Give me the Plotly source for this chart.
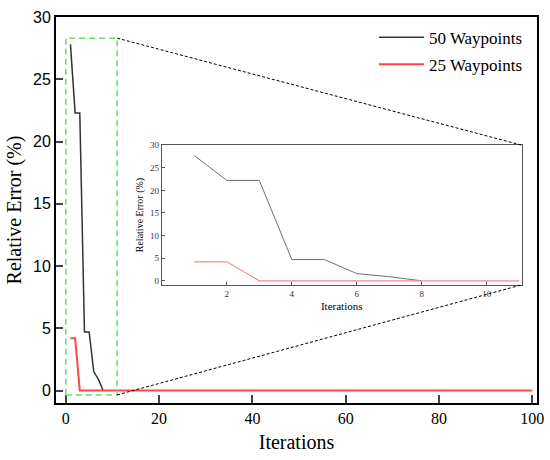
import plotly.graph_objects as go

# data
iters_50 = [1, 2, 3, 4, 5, 6, 7, 8]
err_50 = [27.8, 22.3, 22.3, 4.7, 4.7, 1.5, 0.9, 0.0]
iters_25 = [1, 2, 3, 100]
err_25 = [4.2, 4.2, 0.0, 0.0]

inset_iters_50 = [1, 2, 3, 4, 5, 6, 7, 8]
inset_err_50 = [27.7, 22.2, 22.2, 4.7, 4.7, 1.6, 0.9, 0.0]
inset_iters_25 = [1, 2, 3, 11]
inset_err_25 = [4.2, 4.2, 0.0, 0.0]

zoom_box = dict(x0=0, x1=11, y0=-0.35, y1=28.3)

x_range = [-2.1, 101]
y_range = [-1, 30]
inset_dom_x = [0.220, 0.968]
inset_dom_y = [0.306, 0.668]

serif = "Liberation Serif"


def paper_to_main(px, py):
    # inset corner (paper, main domain is [0,1]) -> main data coords
    x = x_range[0] + px * (x_range[1] - x_range[0])
    y = y_range[0] + py * (y_range[1] - y_range[0])
    return x, y


fig = go.Figure()

fig.add_trace(go.Scatter(x=iters_50, y=err_50, mode="lines", name="50 Waypoints",
                         legendgroup="a", line=dict(color="#333333", width=1.5)))
fig.add_trace(go.Scatter(x=iters_25, y=err_25, mode="lines", name="25 Waypoints",
                         legendgroup="b", line=dict(color="#ff4545", width=2)))

# inset
fig.add_trace(go.Scatter(x=inset_iters_50, y=inset_err_50, mode="lines", showlegend=False,
                         line=dict(color="#707070", width=1), xaxis="x2", yaxis="y2"))
fig.add_trace(go.Scatter(x=inset_iters_25, y=inset_err_25, mode="lines", showlegend=False,
                         line=dict(color="#f58a8a", width=1.2), xaxis="x2", yaxis="y2"))

# green zoom rectangle
fig.add_shape(type="rect", xref="x", yref="y", **zoom_box,
              line=dict(color="#66e066", width=1.5, dash="6px,4px"), layer="above")

# dotted connectors to inset right corners
tr = paper_to_main(inset_dom_x[1], inset_dom_y[1])
br = paper_to_main(inset_dom_x[1], inset_dom_y[0])
fig.add_shape(type="line", xref="x", yref="y", x0=zoom_box["x1"], y0=zoom_box["y1"],
              x1=tr[0], y1=tr[1], line=dict(color="black", width=1, dash="3px,2px"))
fig.add_shape(type="line", xref="x", yref="y", x0=zoom_box["x1"], y0=zoom_box["y0"],
              x1=br[0], y1=br[1], line=dict(color="black", width=1, dash="3px,2px"))

fig.update_layout(
    width=550, height=460,
    margin=dict(l=56, r=13, t=12, b=57),
    paper_bgcolor="white", plot_bgcolor="white",
    font=dict(family=serif, color="black"),
    xaxis=dict(range=x_range, tickvals=[0, 20, 40, 60, 80, 100], ticks="inside", ticklen=8,
               tickwidth=1.5, showline=True, linecolor="black", linewidth=2, mirror=True,
               showgrid=False, zeroline=False, automargin=False,
               tickfont=dict(family=serif, size=16),
               title=dict(text="Iterations", font=dict(family=serif, size=20), standoff=9)),
    yaxis=dict(range=y_range, tickvals=[0, 5, 10, 15, 20, 25, 30], ticks="inside", ticklen=7,
               tickwidth=1.5, showline=True, linecolor="black", linewidth=2, mirror=True,
               showgrid=False, zeroline=False, automargin=False,
               tickfont=dict(family="Liberation Sans", size=16),
               title=dict(text="Relative Error (%)", font=dict(family=serif, size=20), standoff=6)),
    xaxis2=dict(domain=inset_dom_x, anchor="y2", range=[0, 11.07], tickvals=[2, 4, 6, 8, 10],
                ticks="inside", ticklen=3, tickcolor="#555", showline=True, linecolor="#555",
                linewidth=1, mirror=True, showgrid=False, zeroline=False,
                tickfont=dict(family=serif, size=9, color="#333"),
                title=dict(text="Iterations", font=dict(family=serif, size=11), standoff=4)),
    yaxis2=dict(domain=inset_dom_y, anchor="x2", range=[-0.9, 30], tickvals=[0, 5, 10, 15, 20, 25, 30],
                ticks="inside", ticklen=3, tickcolor="#555", showline=True, linecolor="#555",
                linewidth=1, mirror=True, showgrid=False, zeroline=False,
                tickfont=dict(family=serif, size=9, color="#333"),
                title=dict(text="Relative Error (%)", font=dict(family=serif, size=10), standoff=4)),
    legend=dict(x=0.661, y=0.993, xanchor="left", yanchor="top", bgcolor="rgba(0,0,0,0)",
                font=dict(family=serif, size=17), itemwidth=45, tracegroupgap=2),
)

fig.write_html("out.html", config={"displayModeBar": False},
               post_script="document.body.style.margin='0';")
